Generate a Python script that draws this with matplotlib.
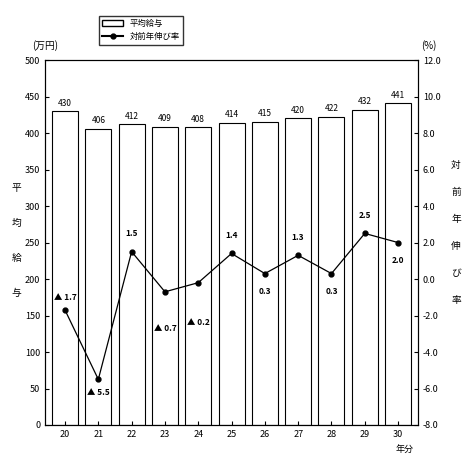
import matplotlib
matplotlib.use("Agg")
import matplotlib.pyplot as plt
from matplotlib.lines import Line2D
from matplotlib.patches import Patch

plt.rcParams['font.family'] = ['Noto Sans CJK JP', 'DejaVu Sans']

years = ["20", "21", "22", "23", "24", "25", "26", "27", "28", "29", "30"]
salary = [430, 406, 412, 409, 408, 414, 415, 420, 422, 432, 441]
growth = [-1.7, -5.5, 1.5, -0.7, -0.2, 1.4, 0.3, 1.3, 0.3, 2.5, 2.0]

fig = plt.figure(figsize=(4.74, 4.66), dpi=100)
ax = fig.add_axes([0.095, 0.088, 0.787, 0.783])
x = range(len(years))
ax.bar(x, salary, width=0.78, color="white", edgecolor="black", linewidth=0.8)
for i, v in enumerate(salary):
    ax.text(i, v + 5, str(v), ha="center", va="bottom", fontsize=6)
ax.set_ylim(0, 500)
ax.set_yticks(range(0, 501, 50))
ax.set_xlim(-0.6, len(years) - 0.4)
ax.set_xticks(list(x))
ax.set_xticklabels(years)
ax.tick_params(labelsize=6.5, direction="in", length=3)

ax2 = ax.twinx()
ax2.plot(list(x), growth, color="black", marker="o", markersize=3.5, linewidth=0.9)
ax2.set_ylim(-8, 12)
ax2.set_yticks(range(-8, 13, 2))
ax2.set_yticklabels([f"{t:.1f}" for t in range(-8, 13, 2)])
ax2.tick_params(labelsize=6.5, direction="in", length=3)
offsets = [0.7, -0.7, 1.0, -2.0, -2.2, 1.0, -1.0, 1.0, -1.0, 1.0, -1.0]
for i, g in enumerate(growth):
    lbl = ("▲ " if g < 0 else "") + f"{abs(g):.1f}"
    ax2.text(i, g + offsets[i], lbl, ha="center", va="center", fontsize=6, fontweight="bold")

fig.text(0.095, 0.895, "(万円)", fontsize=7, ha="center")
fig.text(0.905, 0.895, "(%)", fontsize=7, ha="center")
for j, ch in enumerate("平均給与"):
    fig.text(0.035, 0.59 - j * 0.075, ch, fontsize=7, ha="center")
for j, ch in enumerate("対前年伸び率"):
    fig.text(0.962, 0.64 - j * 0.058, ch, fontsize=7, ha="center")
fig.text(0.853, 0.03, "年分", fontsize=6.5, ha="center")

handles = [Patch(facecolor="white", edgecolor="black", label="平均給与"),
           Line2D([0], [0], color="black", marker="o", markersize=3.5, label="対前年伸び率")]
fig.legend(handles=handles, loc="upper left", bbox_to_anchor=(0.2, 0.975), fontsize=6,
           frameon=True, fancybox=False, edgecolor="black", handlelength=2.5)
fig.savefig("out.png", dpi=100)
